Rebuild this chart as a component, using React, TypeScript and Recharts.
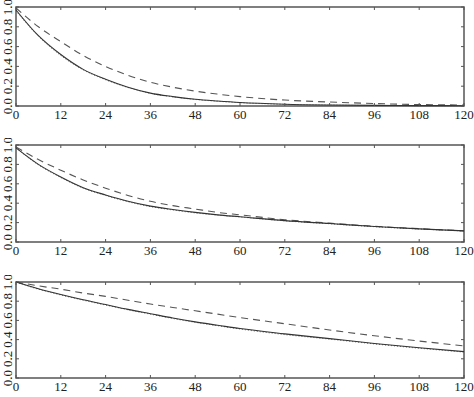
import React from 'react';
import { LineChart, Line, XAxis, YAxis, ReferenceArea } from 'recharts';

const months = [0, 6, 12, 18, 24, 30, 36, 42, 48, 54, 60, 72, 84, 96, 108, 120];
const xTicks = [0, 12, 24, 36, 48, 60, 72, 84, 96, 108, 120];
const yTicks = [0, 0.2, 0.4, 0.6, 0.8, 1.0];

// panel 1
const p1Solid = [0.97, 0.71, 0.52, 0.37, 0.27, 0.19, 0.13, 0.095, 0.068, 0.05, 0.035, 0.018, 0.01, 0.006, 0.004, 0.003];
const p1Dashed = [0.99, 0.8, 0.65, 0.51, 0.4, 0.31, 0.24, 0.19, 0.15, 0.12, 0.095, 0.06, 0.04, 0.025, 0.015, 0.01];
const p1Dotted = [0.96, 0.705, 0.51, 0.365, 0.265, 0.187, 0.128, 0.093, 0.066, 0.048, 0.034, 0.017, 0.009, 0.005, 0.003, 0.002];

// panel 2
const p2Solid = [0.97, 0.8, 0.67, 0.56, 0.485, 0.42, 0.37, 0.335, 0.305, 0.28, 0.26, 0.22, 0.19, 0.16, 0.135, 0.115];
const p2Dashed = [0.98, 0.85, 0.74, 0.64, 0.555, 0.48, 0.42, 0.375, 0.34, 0.305, 0.28, 0.23, 0.195, 0.162, 0.137, 0.115];
const p2Dotted = [0.97, 0.795, 0.665, 0.555, 0.48, 0.415, 0.365, 0.33, 0.3, 0.278, 0.258, 0.218, 0.188, 0.158, 0.134, 0.114];

// panel 3
const p3Solid = [1.0, 0.93, 0.87, 0.815, 0.765, 0.715, 0.67, 0.625, 0.585, 0.55, 0.515, 0.46, 0.41, 0.36, 0.315, 0.275];
const p3Dashed = [1.0, 0.96, 0.925, 0.885, 0.85, 0.81, 0.77, 0.735, 0.7, 0.665, 0.63, 0.565, 0.5, 0.44, 0.385, 0.335];
const p3Dotted = [1.0, 0.925, 0.865, 0.81, 0.76, 0.71, 0.665, 0.62, 0.58, 0.545, 0.51, 0.452, 0.405, 0.355, 0.31, 0.27];

const FONT = "'Liberation Serif', 'DejaVu Serif', serif";
const FRAME = '#555';
const LINE = '#333';
const PLOT_W = 448;

function XTick(props: any) {
  const { x, y, payload, plotH } = props;
  return (
    <g>
      <line x1={x} y1={y} x2={x} y2={y - 3} stroke={FRAME} />
      <line x1={x} y1={y - plotH} x2={x} y2={y - plotH + 3} stroke={FRAME} />
      <text x={x} y={y + 13} textAnchor="middle" style={{ fontFamily: FONT, fontSize: 13 }} fill="#222">
        {payload.value}
      </text>
    </g>
  );
}

function YTick(props: any) {
  const { x, y, payload } = props;
  return (
    <g>
      <line x1={x} y1={y} x2={x + 3} y2={y} stroke={FRAME} />
      <line x1={x + PLOT_W} y1={y} x2={x + PLOT_W - 3} y2={y} stroke={FRAME} />
      <text
        x={x - 4}
        y={y}
        transform={`rotate(-90 ${x - 4} ${y})`}
        textAnchor="middle"
        style={{ fontFamily: FONT, fontSize: 13 }}
        fill="#222"
      >
        {payload.value.toFixed(1)}
      </text>
    </g>
  );
}

interface PanelProps {
  top: number;
  plotH: number;
  solid: number[];
  dashed: number[];
  dotted: number[];
}

function Panel({ top, plotH, solid, dashed, dotted }: PanelProps) {
  const data = months.map((m, i) => ({ x: m, solid: solid[i], dashed: dashed[i], dotted: dotted[i] }));
  return (
    <div style={{ position: 'absolute', left: 0, top }}>
      <LineChart width={474} height={7 + plotH + 24} data={data} margin={{ top: 7, right: 10, left: 0, bottom: 0 }}>
        <XAxis
          dataKey="x"
          type="number"
          domain={[0, 120]}
          ticks={xTicks}
          height={24}
          tickSize={0}
          tickMargin={0}
          tickLine={false}
          axisLine={false}
          interval={0}
          tick={<XTick plotH={plotH} />}
        />
        <YAxis
          type="number"
          domain={[0, 1]}
          ticks={yTicks}
          width={16}
          tickSize={0}
          tickMargin={0}
          tickLine={false}
          axisLine={false}
          interval={0}
          tick={<YTick />}
        />
        <ReferenceArea x1={0} x2={120} y1={0} y2={1} stroke={FRAME} strokeWidth={1.5} fill="none" fillOpacity={0} />
        <Line type="monotone" dataKey="dotted" stroke="#666" strokeWidth={1} strokeDasharray="1 2" dot={false} isAnimationActive={false} />
        <Line type="monotone" dataKey="dashed" stroke="#555" strokeWidth={1.1} strokeDasharray="7 5" dot={false} isAnimationActive={false} />
        <Line type="monotone" dataKey="solid" stroke={LINE} strokeWidth={1.1} dot={false} isAnimationActive={false} />
      </LineChart>
    </div>
  );
}

export default function App() {
  return (
    <div style={{ position: 'absolute', left: 0, top: 0, width: 474, height: 397, background: '#fff' }}>
      <Panel top={0} plotH={99} solid={p1Solid} dashed={p1Dashed} dotted={p1Dotted} />
      <Panel top={138} plotH={97} solid={p2Solid} dashed={p2Dashed} dotted={p2Dotted} />
      <Panel top={275} plotH={96} solid={p3Solid} dashed={p3Dashed} dotted={p3Dotted} />
    </div>
  );
}
